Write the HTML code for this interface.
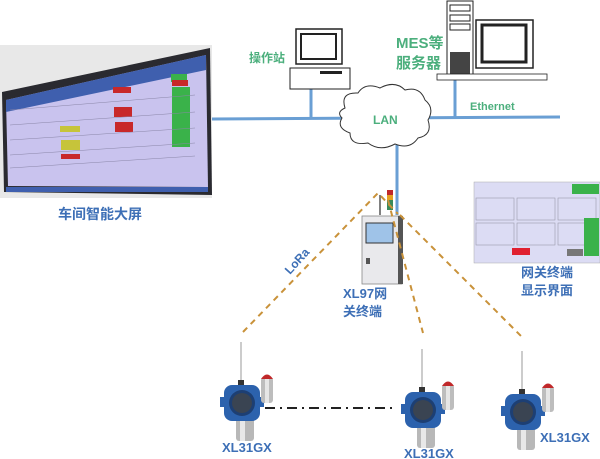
<!DOCTYPE html>
<html><head><meta charset="utf-8"><style>
html,body{margin:0;padding:0;background:#fff;}
svg{display:block;}
text{font-family:"Liberation Sans","Noto Sans CJK SC",sans-serif;font-weight:bold;}
</style></head><body>
<svg width="600" height="459" viewBox="0 0 600 459" xmlns="http://www.w3.org/2000/svg">
<defs>
<g id="det">
  <line x1="0" y1="-18" x2="0" y2="-60" stroke="#999" stroke-width="1"/>
  <rect x="-3" y="-22" width="6" height="8" fill="#333"/>
  <rect x="-5" y="15" width="18" height="24" rx="3" fill="#b8b8b8"/>
  <rect x="-1" y="15" width="5" height="24" fill="#e8e8e8"/>
  <rect x="-17" y="-17" width="36" height="36" rx="8" fill="#2c62ad"/>
  <rect x="-21" y="-5" width="6" height="10" fill="#2c62ad"/>
  <rect x="17" y="-5" width="6" height="10" fill="#2c62ad"/>
  <circle cx="1" cy="1" r="13" fill="#1d3f73"/>
  <circle cx="1" cy="1" r="10" fill="#3a4452"/>
  <rect x="20" y="-25" width="12" height="26" rx="3" fill="#bdbdbd"/>
  <rect x="24" y="-25" width="4" height="26" fill="#e6e6e6"/>
  <path d="M20,-23 Q26,-32 32,-23 Z" fill="#c0282a"/>
</g>
</defs>

<!-- big screen -->
<polygon points="0,45 212,45 212,198 0,198" fill="#e8e8e8"/>
<polygon points="2,92 210,48 212,195 4,192" fill="#2a2a30"/>
<polygon points="6,100 206,55 208,187 8,186" fill="#c9c3ee"/>
<polygon points="6,100 206,55 206,70 6,112" fill="#3f5fae"/>
<rect x="60" y="126" width="20" height="6" fill="#c6c43a"/>
<rect x="61" y="140" width="19" height="10" fill="#c6c43a"/>
<rect x="61" y="154" width="19" height="5" fill="#c8282a"/>
<rect x="113" y="87" width="18" height="6" fill="#c8282a"/>
<rect x="114" y="107" width="18" height="10" fill="#c8282a"/>
<rect x="115" y="122" width="18" height="10" fill="#c8282a"/>
<rect x="171" y="74" width="16" height="8" fill="#3ab24a"/>
<rect x="172" y="80" width="16" height="6" fill="#c8282a"/>
<rect x="172" y="87" width="18" height="60" fill="#3ab24a"/>
<g stroke="#8a86a8" stroke-width="0.5">
<line x1="10" y1="110" x2="195" y2="95"/><line x1="10" y1="125" x2="195" y2="112"/>
<line x1="10" y1="140" x2="195" y2="128"/><line x1="10" y1="155" x2="195" y2="143"/>
<line x1="10" y1="168" x2="195" y2="156"/>
</g>
<rect x="6" y="187" width="202" height="5" fill="#3f5fae"/>
<text x="58" y="219" font-size="14" fill="#3d6fb6">车间智能大屏</text>

<!-- network lines -->
<g stroke="#6a9fd4" stroke-width="3">
<line x1="212" y1="119" x2="560" y2="117"/>
<line x1="311" y1="88" x2="311" y2="118"/>
<line x1="455" y1="78" x2="455" y2="118"/>
<line x1="397" y1="145" x2="397" y2="215"/>
</g>
<!-- cloud -->
<path d="M345,108 Q340,92 358,93 Q365,82 380,88 Q395,80 405,90 Q420,86 425,100 Q435,108 428,120 Q433,135 418,138 Q410,150 395,144 Q380,152 368,143 Q350,146 350,133 Q336,128 342,118 Q336,112 345,108 Z" fill="#fff" stroke="#333" stroke-width="1"/>
<text x="373" y="124" font-size="12" fill="#4caf7d">LAN</text>

<!-- operator PC -->
<rect x="296" y="29" width="46" height="35" fill="#fff" stroke="#222" stroke-width="1.5"/>
<rect x="301" y="34" width="35" height="25" fill="#fff" stroke="#222" stroke-width="2"/>
<rect x="290" y="68" width="60" height="21" fill="#fff" stroke="#222" stroke-width="1"/>
<rect x="320" y="71" width="22" height="3" fill="#222"/>
<text x="249" y="62" font-size="12" fill="#4caf7d">操作站</text>

<!-- server -->
<rect x="447" y="1" width="26" height="78" fill="#fff" stroke="#222" stroke-width="1"/>
<rect x="450" y="5" width="20" height="6" fill="#fff" stroke="#222"/>
<rect x="450" y="15" width="20" height="6" fill="#fff" stroke="#222"/>
<rect x="450" y="24" width="20" height="6" fill="#fff" stroke="#222"/>
<rect x="450" y="52" width="20" height="22" fill="#444"/>
<rect x="476" y="20" width="57" height="48" fill="#fff" stroke="#222" stroke-width="1.5"/>
<rect x="482" y="25" width="44" height="37" fill="#fff" stroke="#222" stroke-width="3"/>
<rect x="437" y="74" width="110" height="6" fill="#fff" stroke="#222" stroke-width="0.8"/>
<text x="396" y="48" font-size="15" fill="#4caf7d">MES等</text>
<text x="396" y="68" font-size="15" fill="#4caf7d">服务器</text>
<text x="470" y="110" font-size="11" fill="#4caf7d">Ethernet</text>

<!-- gateway -->
<line x1="380" y1="195" x2="380" y2="215" stroke="#555" stroke-width="1.5"/>
<rect x="387" y="190" width="6" height="5" fill="#c0282a"/>
<rect x="387" y="195" width="6" height="5" fill="#e6a020"/>
<rect x="387" y="200" width="6" height="10" fill="#3a8a5a"/>
<rect x="362" y="216" width="40" height="68" fill="#e9e9ec" stroke="#888" stroke-width="0.8"/>
<rect x="398" y="216" width="5" height="68" fill="#555"/>
<rect x="366" y="223" width="27" height="20" fill="#9fc3e8" stroke="#333"/>
<rect x="366" y="258" width="4" height="6" fill="#555"/>
<text x="343" y="298" font-size="13" fill="#3d6fb6">XL97网</text>
<text x="343" y="316" font-size="13" fill="#3d6fb6">关终端</text>

<!-- gateway screen -->
<rect x="474" y="182" width="126" height="81" fill="#dcdcf4" stroke="#aaa" stroke-width="0.5"/>
<rect x="572" y="184" width="27" height="10" fill="#3ab24a"/>
<rect x="476" y="198" width="38" height="22" fill="none" stroke="#99a" stroke-width="0.6"/>
<rect x="517" y="198" width="38" height="22" fill="none" stroke="#99a" stroke-width="0.6"/>
<rect x="558" y="198" width="38" height="22" fill="none" stroke="#99a" stroke-width="0.6"/>
<rect x="476" y="223" width="38" height="22" fill="none" stroke="#99a" stroke-width="0.6"/>
<rect x="517" y="223" width="38" height="22" fill="none" stroke="#99a" stroke-width="0.6"/>
<rect x="558" y="223" width="38" height="22" fill="none" stroke="#99a" stroke-width="0.6"/>
<rect x="584" y="218" width="15" height="38" fill="#3ab24a"/>
<rect x="512" y="248" width="18" height="7" fill="#e02030"/>
<rect x="567" y="249" width="16" height="7" fill="#777"/>
<text x="521" y="277" font-size="13" fill="#3d6fb6">网关终端</text>
<text x="521" y="295" font-size="13" fill="#3d6fb6">显示界面</text>

<!-- lora dashed -->
<g stroke="#c9923a" stroke-width="2" stroke-dasharray="6,5" fill="none">
<polyline points="243,332 378,193 398,214"/>
<line x1="388" y1="200" x2="423" y2="333"/>
<line x1="400" y1="215" x2="523" y2="338"/>
</g>
<text x="290" y="275" font-size="12" fill="#3d6fb6" font-weight="normal" transform="rotate(-48 290 275)">LoRa</text>

<!-- dash-dot -->
<line x1="265" y1="408" x2="397" y2="408" stroke="#222" stroke-width="2" stroke-dasharray="10,5,2,5"/>

<!-- detectors -->
<use href="#det" x="241" y="402"/>
<use href="#det" x="422" y="409"/>
<use href="#det" x="522" y="411"/>
<text x="222" y="452" font-size="13" fill="#3d6fb6">XL31GX</text>
<text x="404" y="458" font-size="13" fill="#3d6fb6">XL31GX</text>
<text x="540" y="442" font-size="13" fill="#3d6fb6">XL31GX</text>
</svg>
</body></html>
